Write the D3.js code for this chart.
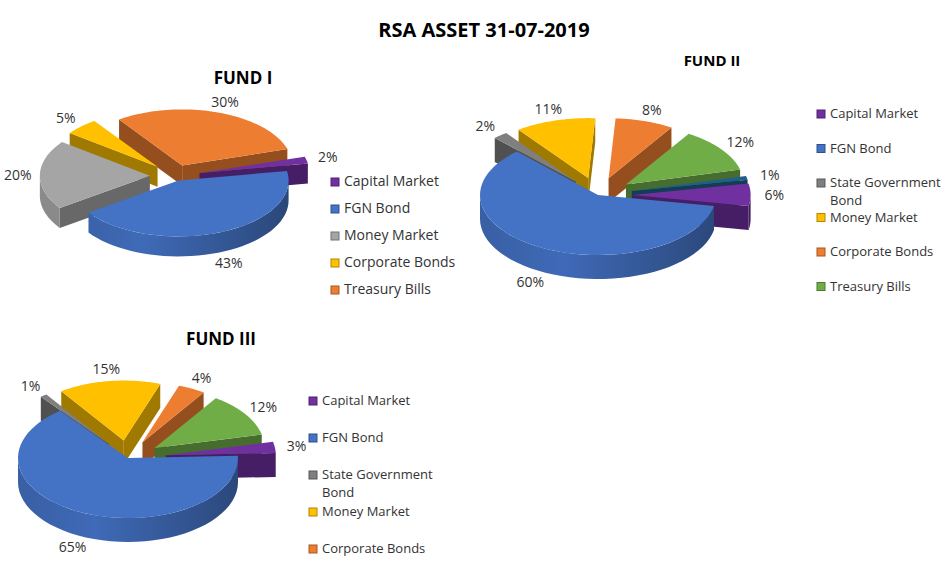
<!DOCTYPE html>
<html><head><meta charset="utf-8">
<script src="https://cdn.jsdelivr.net/npm/d3@7"></script>
<style>body{margin:0;background:#fff}text{font-family:"Open Sans",sans-serif}</style>
</head><body>
<svg id="c" width="949" height="562"></svg>
<script>
const fund1Categories = ["Capital Market","FGN Bond","Money Market","Corporate Bonds","Treasury Bills"];
const fund1Values = [2,43,20,5,30];
const fund1Colors = ["#7030A0","#4472C4","#A5A5A5","#FFC000","#ED7D31"];
const fund2Categories = ["Capital Market","FGN Bond","State Government Bond","Money Market","Corporate Bonds","Treasury Bills","Others"];
const fund2Values = [6,60,2,11,8,12,1];
const fund2Colors = ["#7030A0","#4472C4","#7F7F7F","#FFC000","#ED7D31","#70AD47","#1F5F8B"];
const fund3Categories = ["Capital Market","FGN Bond","State Government Bond","Money Market","Corporate Bonds","Treasury Bills"];
const fund3Values = [3,65,1,15,4,12];
const fund3Colors = ["#7030A0","#4472C4","#7F7F7F","#FFC000","#ED7D31","#70AD47"];

const svg = d3.select("#c");
svg.append("text").attr("x",484).attr("y",37).attr("text-anchor","middle")
  .attr("font-weight","bold").attr("font-size",20).text("RSA ASSET 31-07-2019");

function pie3d(cfg){
  const {cats,vals,cols,cx,cy,rx,ry,h,start,explode,title,tx,ty,tsize,legend,lr} = cfg;
  const g = svg.append("g");
  g.append("text").attr("x",tx).attr("y",ty).attr("text-anchor","middle")
   .attr("font-weight","bold").attr("font-size",tsize).text(title);
  const pie = d3.pie().sort(null).startAngle(start*Math.PI/180).endAngle(start*Math.PI/180+2*Math.PI);
  const arcs = pie(vals).map((d,i)=>{
    const mid=(d.startAngle+d.endAngle)/2, e=explode[i];
    return {...d,i,mid,ox:cx+Math.sin(mid)*e*rx/ry*0.8,oy:cy-Math.cos(mid)*e*0.8};
  });
  const P=(a,ox,oy,r=1,dz=0)=>[ox+Math.sin(a)*rx*r, oy-Math.cos(a)*ry*r+dz];
  const order = arcs.slice().sort((a,b)=>(a.oy-Math.cos(a.mid)*ry*0.5)-(b.oy-Math.cos(b.mid)*ry*0.5));
  order.forEach(s=>{
    const c=d3.color(cols[s.i]);
    const side=c.darker(1.3), wall=c.darker(0.5);
    const a0=s.startAngle,a1=s.endAngle,ox=s.ox,oy=s.oy;
    const radial=(a)=>{const p=P(a,ox,oy);const q=P(a,ox,oy,1,h);
      return `M${ox},${oy}L${p}L${q}L${ox},${oy+h}Z`;};
    if(Math.sin(a0)<0) g.append("path").attr("d",radial(a0)).attr("fill",side);
    if(Math.sin(a1)>0) g.append("path").attr("d",radial(a1)).attr("fill",side);
    const ranges=[[Math.max(a0,Math.PI/2),Math.min(a1,1.5*Math.PI)],[Math.max(a0,2.5*Math.PI),Math.min(a1,3.5*Math.PI)]];
    ranges.forEach(([u,v])=>{
      if(v<=u) return;
      const n=40, top=[],bot=[];
      for(let k=0;k<=n;k++){const a=u+(v-u)*k/n;top.push(P(a,ox,oy));bot.push(P(a,ox,oy,1,h));}
      const gid="gw"+Math.random().toString(36).slice(2);
      const gr=svg.append("defs").append("linearGradient").attr("id",gid)
        .attr("gradientUnits","userSpaceOnUse").attr("x1",cx-rx).attr("x2",cx+rx).attr("y1",0).attr("y2",0);
      gr.append("stop").attr("offset",0).attr("stop-color",wall);
      gr.append("stop").attr("offset",0.35).attr("stop-color",c.darker(0.2));
      gr.append("stop").attr("offset",1).attr("stop-color",side);
      g.append("path").attr("d","M"+top.join("L")+"L"+bot.reverse().join("L")+"Z").attr("fill",`url(#${gid})`);
    });
    const n=60, pts=[[ox,oy]];
    for(let k=0;k<=n;k++) pts.push(P(a0+(a1-a0)*k/n,ox,oy));
    g.append("path").attr("d","M"+pts.join("L")+"Z").attr("fill",c.formatHex());
    const lp=P(s.mid,ox,oy,lr, Math.cos(s.mid)<0?h:0);
    g.append("text").attr("x",lp[0]).attr("y",lp[1]+5).attr("text-anchor","middle")
      .attr("font-size",14).attr("fill","#333").text(vals[s.i]+"%");
  });
  const lg=svg.append("g");
  let y=legend.y;
  cats.forEach((cName,i)=>{
    if(legend.skip && legend.skip.includes(i)) return;
    if(y>560) return;
    const c=d3.color(cols[i]);
    lg.append("rect").attr("x",legend.x).attr("y",y-8).attr("width",8).attr("height",8).attr("fill",c.formatHex())
      .attr("stroke",c.darker(1)).attr("stroke-width",1);
    const words = legend.wrap && cName.length>16 ? [cName.replace(" Bond",""),"Bond"] : [cName];
    words.forEach((w,j)=>lg.append("text").attr("x",legend.x+13).attr("y",y+j*legend.lh).attr("font-size",legend.fs).attr("fill","#333").text(w));
    y+=legend.step;
  });
}

pie3d({cats:fund1Categories,vals:fund1Values,cols:fund1Colors,cx:175,cy:176,rx:110,ry:56,h:20,start:73,
  explode:[16,6,16,16,14],title:"FUND I",tx:243,ty:84,tsize:17,lr:1.2,
  legend:{x:331,y:186,step:27,fs:14,lh:18}});
pie3d({cats:fund2Categories,vals:fund2Values,cols:fund2Colors,cx:598,cy:195,rx:118,ry:60,h:24,start:79,
  explode:[22,0,22,22,22,22,22],title:"FUND II",tx:712,ty:66,tsize:15,lr:1.2,
  legend:{x:817,y:118,step:34.5,fs:13,lh:18,wrap:true,skip:[6]}});
pie3d({cats:fund3Categories,vals:fund3Values,cols:fund3Colors,cx:128,cy:458,rx:110,ry:60,h:24,start:77,
  explode:[26,0,22,22,22,22],title:"FUND III",tx:221,ty:345,tsize:17,lr:1.2,
  legend:{x:309,y:405,step:37,fs:13,lh:18,wrap:true}});
</script>
</body></html>
